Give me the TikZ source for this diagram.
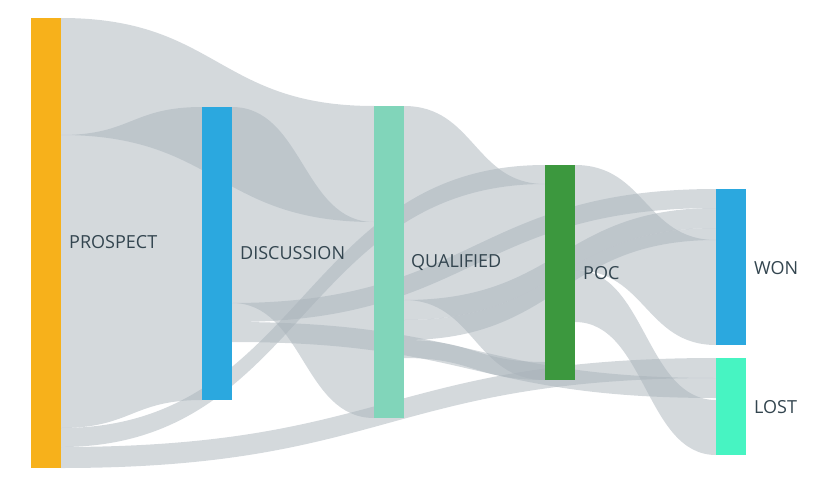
\documentclass[tikz,border=0pt]{standalone}
\usepackage{fontspec}
\setmainfont{Open Sans}
\begin{document}
\begin{tikzpicture}[x=1pt,y=-1pt,
  flowc/.style={fill=flowgray,fill opacity=0.5},
  bar/.style={draw=none,inner sep=0pt,minimum width=30pt,anchor=north west},
  lab/.style={text=labc,font=\fontsize{18}{20}\selectfont,anchor=west,inner sep=0pt}]
\definecolor{flowgray}{HTML}{A9B3BA}
\definecolor{labc}{HTML}{33454F}
\definecolor{cP}{HTML}{F7B11B}
\definecolor{cD}{HTML}{2BA8DF}
\definecolor{cQ}{HTML}{81D5BA}
\definecolor{cC}{HTML}{3C983E}
\definecolor{cW}{HTML}{2BA8DF}
\definecolor{cL}{HTML}{47F4C2}
\useasboundingbox (0,0) rectangle (832,495);
\newcommand\flowband[6]{%
  \fill[flowc] (#1,#2) .. controls ({(#1+#4)/2},#2) and ({(#1+#4)/2},#5) .. (#4,#5)
    -- (#4,#6) .. controls ({(#1+#4)/2},#6) and ({(#1+#4)/2},#3) .. (#1,#3) -- cycle;}
% PROSPECT out
\flowband{61}{18}{135}{374}{106}{222}
\flowband{61}{135}{428}{202}{107}{400}
\flowband{61}{428}{447}{545}{165}{184}
\flowband{61}{447}{468}{716}{358}{378}
% DISCUSSION out
\flowband{232}{107}{303}{374}{222}{418}
\flowband{232}{303}{322}{716}{189}{208}
\flowband{232}{322}{342}{716}{378}{398}
% QUALIFIED out
\flowband{404}{106}{300}{545}{184}{380}
\flowband{404}{300}{320}{716}{208}{228}
\flowband{404}{320}{340}{716}{228}{240}
\flowband{404}{340}{358}{545}{362}{380}
% POC out
\flowband{575}{165}{270}{716}{240}{345}
\flowband{575}{270}{322}{716}{400}{455}
% nodes
\node[bar,fill=cP,minimum height=450pt] (prospect) at (31,18) {};
\node[bar,fill=cD,minimum height=293pt] (discussion) at (202,107) {};
\node[bar,fill=cQ,minimum height=312pt] (qualified) at (374,106) {};
\node[bar,fill=cC,minimum height=215pt] (poc) at (545,165) {};
\node[bar,fill=cW,minimum height=156pt] (won) at (716,189) {};
\node[bar,fill=cL,minimum height=97pt] (lost) at (716,358) {};
\node[lab] (lp) at (69,242) {PROSPECT};
\node[lab] (ld) at (240,253) {DISCUSSION};
\node[lab] (lq) at (411,262) {QUALIFIED};
\node[lab] (lc) at (583,273) {POC};
\node[lab] (lw) at (754,268) {WON};
\node[lab] (ll) at (754,407) {LOST};
\end{tikzpicture}
\end{document}
